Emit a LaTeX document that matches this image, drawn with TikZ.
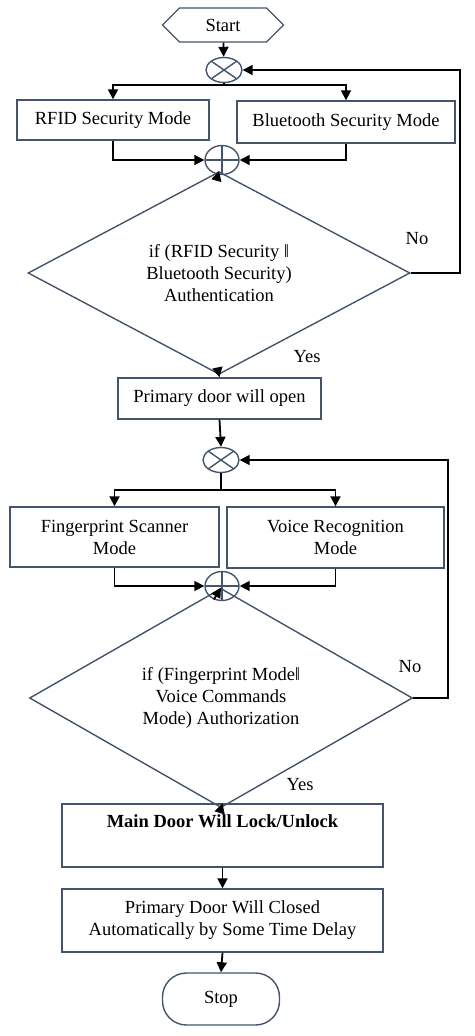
\documentclass[tikz,border=0pt]{standalone}
\usepackage{fontspec}
\setmainfont{Liberation Serif}
\usetikzlibrary{shapes.geometric, shapes.symbols, arrows.meta}
\definecolor{boxline}{HTML}{44546A}

\begin{document}
\begin{tikzpicture}[x=1pt,y=-1pt,
  font=\fontsize{18.5}{22}\selectfont,
  box/.style={draw=boxline,line width=1.4pt,rectangle,align=center,inner sep=0pt},
  dec/.style={draw=boxline,line width=1.4pt,diamond,align=center,inner sep=0pt},
  jn/.style={draw=boxline,line width=1.4pt,ellipse,inner sep=0pt},
  xjn/.style={jn,minimum width=36pt,minimum height=25pt,path picture={\draw[boxline,line width=1.4pt]
    (path picture bounding box.north west) -- (path picture bounding box.south east)
    (path picture bounding box.north east) -- (path picture bounding box.south west);}},
  pjn/.style={jn,minimum width=34pt,minimum height=29pt,path picture={\draw[boxline,line width=1.4pt]
    (path picture bounding box.north) -- (path picture bounding box.south)
    (path picture bounding box.west) -- (path picture bounding box.east);}},
  arr/.style={-{Triangle[length=10pt,width=10pt]},line width=1.8pt},
  ln/.style={line width=1.8pt}]
\useasboundingbox (0,0) rectangle (474,1036);

\node[draw=boxline,line width=1.4pt,signal,signal to=west and east,signal pointer angle=90,minimum width=121pt,minimum height=34pt,inner sep=0pt](start) at (223,25) {Start};
\node[xjn](x1) at (224,70) {};
\node[box,minimum width=192pt,minimum height=40pt](rfid) at (113,120) {RFID Security Mode};
\node[box,minimum width=218pt,minimum height=42pt](bt) at (346,122) {Bluetooth Security Mode};
\node[pjn](p1) at (222,160) {};
\node[dec,minimum width=382pt,minimum height=159pt](d1) at (219,273) {if (RFID Security \textbardbl\\Bluetooth Security)\\Authentication};
\node(no1) at (417,239) {No};
\node(yes1) at (307,357) {Yes};
\node[box,minimum width=203pt,minimum height=41pt](prim) at (219.5,398.5) {Primary door will open};

\node[xjn](x2) at (221,460) {};
\node[box,minimum width=209pt,minimum height=60pt](finger) at (114.5,537) {Fingerprint Scanner\\Mode};
\node[box,minimum width=217pt,minimum height=61pt](voice) at (335.5,537.5) {Voice Recognition\\Mode};
\node[pjn](p2) at (222,586) {};
\node[dec,minimum width=383pt,minimum height=159pt](d2) at (221,698) {if (Fingerprint Mode\textbardbl\\Voice Commands\\Mode) Authorization};
\node(no2) at (410,667) {No};
\node(yes2) at (300,785) {Yes};
\node[box,minimum width=321pt,minimum height=63pt](main) at (222.5,835.5) {\textbf{Main Door Will Lock/Unlock}\\\strut};
\node[box,minimum width=321pt,minimum height=63pt](closed) at (222.5,920.5) {Primary Door Will Closed\\Automatically by Some Time Delay};
\node[draw=boxline,line width=1.4pt,rounded corners=24pt,minimum width=117pt,minimum height=52pt](stop) at (221,999) {Stop};

\coordinate(s1) at (224,85);
\coordinate(fb1) at (460,0);
\coordinate(s2) at (221,490);
\coordinate(fb2) at (448,0);

\draw[arr] (start) -- (x1);
\draw[ln] (x1) -- (s1);
\draw[arr] (s1) -| (rfid.north);
\draw[arr] (s1) -| (bt.north);
\draw[arr] (rfid.south) |- (p1.west);
\draw[arr] (bt.south) |- (p1.east);
\draw[arr] (p1) -- (d1.north);
\draw[arr] (d1.east) -- (d1.east -| fb1) |- (x1.east);
\draw[arr] (d1.south) -- (prim.north);
\draw[arr] (prim.south) -- (x2.north);
\draw[ln] (x2) -- (s2);
\draw[arr] (s2) -| (finger.north);
\draw[arr] (s2) -| (voice.north);
\draw[arr] (finger.south) |- (p2.west);
\draw[arr] (voice.south) |- (p2.east);
\draw[arr] (p2) -- (d2.north);
\draw[arr] (d2.east) -- (d2.east -| fb2) |- (x2.east);
\draw[arr] (d2.south) -- (main.north);
\draw[arr] (main.south) -- (closed.north);
\draw[arr] (closed.south) -- (stop.north);

\end{tikzpicture}
\end{document}
